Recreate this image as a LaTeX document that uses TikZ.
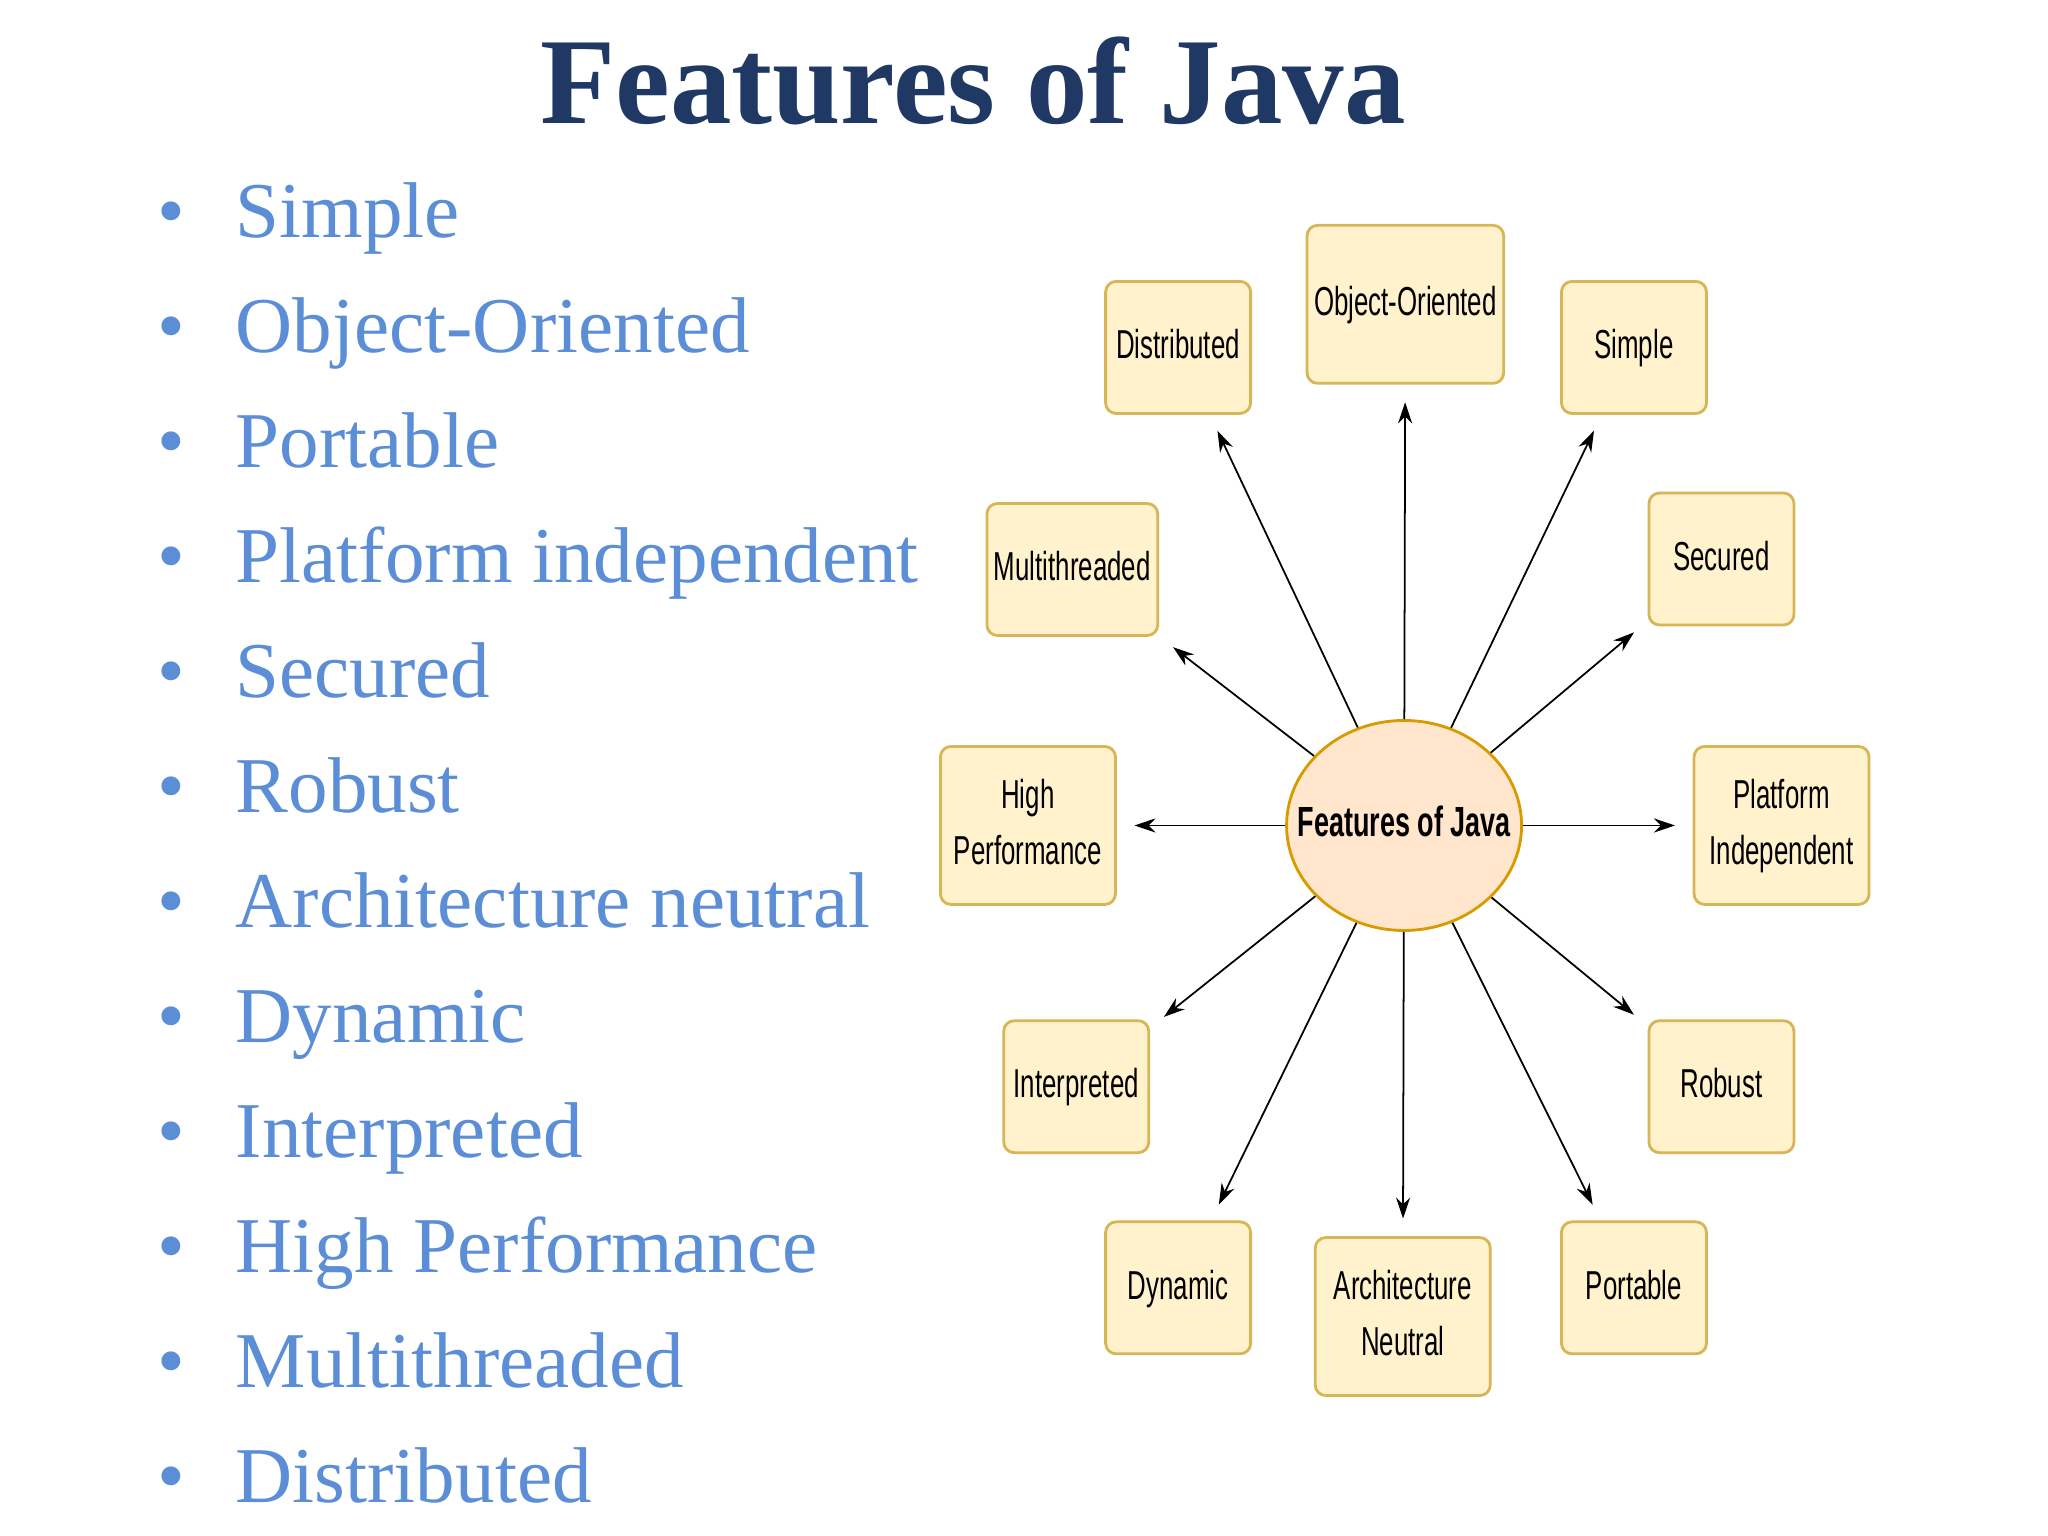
\documentclass[tikz,border=0pt]{standalone}
\usepackage{fontspec}
\setmainfont{Liberation Serif}
\newfontfamily\boxfont{Liberation Sans}
\usetikzlibrary{shapes.geometric,arrows.meta}
\definecolor{titleblue}{HTML}{1F3864}
\definecolor{listblue}{HTML}{5B8ED6}
\definecolor{boxfill}{HTML}{FFF2CC}
\definecolor{boxdraw}{HTML}{D6B656}
\definecolor{ellfill}{HTML}{FFE6CC}
\definecolor{elldraw}{HTML}{D79B00}
\newcommand{\bx}[1]{\scalebox{0.64}[1]{\begin{tabular}{@{}c@{}}#1\end{tabular}}}
\begin{document}
\begin{tikzpicture}[x=0.01306cm,y=-0.01306cm,
  feat/.style={draw=boxdraw,fill=boxfill,rounded corners=3pt,line width=0.8pt,
    minimum width=1.45cm,minimum height=1.32cm,align=center,
    font=\boxfont\fontsize{11.5}{16}\selectfont,inner sep=2pt},
  wide/.style={minimum width=1.75cm,minimum height=1.58cm},
  conn/.style={-{Stealth[length=6pt,width=4pt]},line width=0.5pt,shorten >=5pt},
  item/.style={anchor=base west,inner sep=0pt,text=listblue,font=\fontsize{22.5}{27}\selectfont},
  bul/.style={anchor=base,inner sep=0pt,text=listblue,font=\fontsize{22.5}{27}\selectfont}]
\fill[white] (0,0) rectangle (1568,1176);
\node[text=titleblue,font=\bfseries\fontsize{35}{44}\selectfont] (title) at (745,62) {Features of Java};
\foreach \t [count=\i] in {Simple,Object-Oriented,Portable,Platform independent,Secured,Robust,Architecture neutral,Dynamic,Interpreted,High Performance,Multithreaded,Distributed}{
  \node[item] (l\i) at (180,{165+(\i-1)*88+17}) {\t};
  \node[bul] (b\i) at (131,{165+(\i-1)*88+17}) {\textbullet};
}
\node[ellipse,draw=elldraw,fill=ellfill,line width=0.8pt,minimum width=2.35cm,minimum height=2.1cm,inner sep=0pt,
  font=\boxfont\bfseries\fontsize{12}{16}\selectfont] (c) at (1075,632) {\makebox[0pt]{\bx{Features of Java}}};
\node[feat] (dist) at (902,266) {\bx{Distributed}};
\node[feat,wide] (oo) at (1076,233) {\bx{Object-Oriented}};
\node[feat] (simp) at (1251,266) {\bx{Simple}};
\node[feat] (mt) at (821,436) {\bx{Multithreaded}};
\node[feat] (sec) at (1318,428) {\bx{Secured}};
\node[feat,wide] (hp) at (787,632) {\bx{High\\Performance}};
\node[feat,wide] (pi) at (1364,632) {\bx{Platform\\Independent}};
\node[feat] (int) at (824,832) {\bx{Interpreted}};
\node[feat] (rob) at (1318,832) {\bx{Robust}};
\node[feat] (dyn) at (902,986) {\bx{Dynamic}};
\node[feat,wide] (an) at (1074,1008) {\bx{Architecture\\Neutral}};
\node[feat] (port) at (1251,986) {\bx{Portable}};
\foreach \n in {dist,oo,simp,mt,sec,hp,pi,int,rob,dyn,an,port}
  \draw[conn] (c) -- (\n);
\end{tikzpicture}
\end{document}
